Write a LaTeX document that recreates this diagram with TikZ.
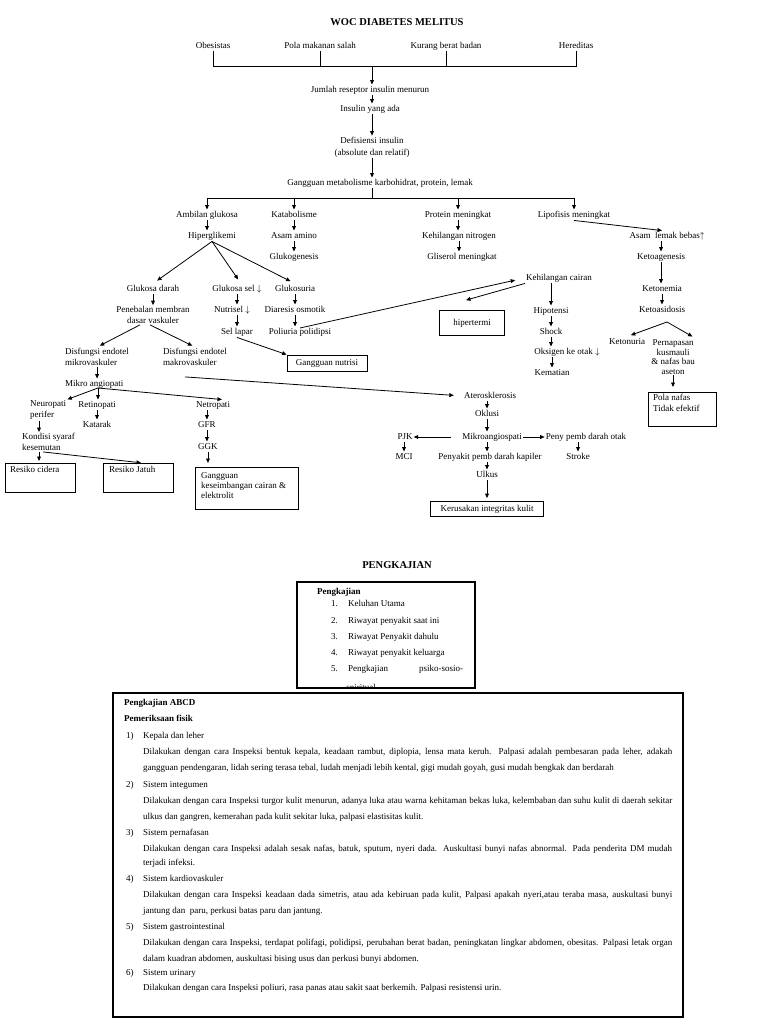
\documentclass[tikz,border=0pt]{standalone}
\usepackage{fontspec}
\setmainfont{Liberation Serif}
\usetikzlibrary{arrows.meta, positioning, calc}

\begin{document}
\begin{tikzpicture}[x=1pt, y=-1pt,
  dasar/.style={inner sep=1pt, font=\fontsize{9}{11}\selectfont},
  txt/.style={dasar, text height=6.5pt, text depth=2pt},
  ml/.style={dasar, align=center},
  mll/.style={dasar, align=left},
  ttl/.style={inner sep=1pt, font=\fontsize{10.5}{12}\selectfont\bfseries},
  kotak/.style={draw, line width=0.8pt, inner sep=2pt, font=\fontsize{9}{11}\selectfont},
  tebal/.style={draw, line width=1.6pt},
  isi/.style={anchor=base west, inner sep=0pt, font=\fontsize{9}{11}\selectfont},
  arr/.style={-{Triangle[length=4.5pt, width=3.8pt]}, line width=0.8pt},
  garis/.style={line width=0.8pt}]
  \useasboundingbox (0,0) rectangle (768,1024);

  % judul
  \node[ttl] (judul) at (397,22) {WOC DIABETES MELITUS};

  % penyebab
  \node[txt] (obes) at (213,46) {Obesistas};
  \node[txt] (pola) at (320,46) {Pola makanan salah};
  \node[txt] (kurang) at (446,46) {Kurang berat badan};
  \node[txt] (hered) at (576,46) {Hereditas};
  \coordinate (j0) at (372,66);
  \draw[garis] (obes.south) |- (j0);
  \draw[garis] (hered.south) |- (j0);
  \draw[garis] (pola.south) -- (pola.south |- j0);
  \draw[garis] (kurang.south) -- (kurang.south |- j0);

  \node[txt] (resep) at (370,90) {Jumlah reseptor insulin menurun};
  \node[txt] (insulin) at (370,109) {Insulin yang ada};
  \node[ml, font=\fontsize{9}{12}\selectfont] (defis) at (372,147) {Defisiensi insulin\\(absolute dan relatif)};
  \node[txt] (ggmet) at (380,183) {Gangguan metabolisme karbohidrat, protein, lemak};
  \draw[arr] (j0) -- (j0 |- resep.north);
  \draw[arr] (resep.south -| j0) -- (j0 |- insulin.north);
  \draw[arr] (insulin.south -| j0) -- (j0 |- defis.north);
  \draw[arr] (defis.south -| j0) -- (j0 |- ggmet.north);

  \coordinate (j1) at (372,198);
  \draw[garis] (ggmet.south -| j1) -- (j1);
  \node[txt] (ambil) at (207,215) {Ambilan glukosa};
  \node[txt] (katab) at (294,215) {Katabolisme};
  \node[txt] (protein) at (458,215) {Protein meningkat};
  \node[txt] (lipo) at (574,215) {Lipofisis meningkat};
  \draw[arr] (j1) -| (ambil.north);
  \draw[arr] (j1) -| (lipo.north);
  \draw[arr] (katab.north |- j1) -- (katab.north);
  \draw[arr] (protein.north |- j1) -- (protein.north);

  \node[txt] (hiper) at (212,236) {Hiperglikemi};
  \node[txt] (asam) at (294,236) {Asam amino};
  \node[txt] (glukog) at (294,257) {Glukogenesis};
  \node[txt] (nitro) at (459,236) {Kehilangan nitrogen};
  \node[txt] (gliser) at (462,257) {Gliserol meningkat};
  \node[txt] (alb) at (667,236) {Asam~ lemak bebas$\uparrow$};
  \node[txt] (ketoag) at (661,257) {Ketoagenesis};
  \draw[arr] (ambil.south) -- (ambil.south |- hiper.north);
  \draw[arr] (katab.south) -- (asam.north);
  \draw[arr] (asam.south) -- (glukog.north);
  \draw[arr] (protein.south) -- (protein.south |- nitro.north);
  \draw[arr] (nitro.south) -- (nitro.south |- gliser.north);
  \draw[arr] (lipo.south) -- ([xshift=-5pt]alb.north);
  \draw[arr] (alb.south -| ketoag) -- (ketoag.north);

  % keton
  \node[txt] (ketonem) at (662,289) {Ketonemia};
  \node[txt] (ketoas) at (662,310) {Ketoasidosis};
  \draw[arr] (ketoag.south) -- (ketoag.south |- ketonem.north);
  \draw[arr] (ketonem.south) -- (ketoas.north);
  \coordinate (kb) at (667,322);
  \node[txt] (ketonu) at (627,342) {Ketonuria};
  \node[ml, font=\fontsize{9}{9.5}\selectfont] (napas) at (673,357) {Pernapasan\\kusmauli\\\& nafas bau\\aseton};
  \draw[arr, shorten >=4pt] (kb) -- (ketonu.north);
  \draw[arr, shorten >=4pt] (kb) -- (napas.north east);
  \node[kotak, anchor=north west, minimum width=68pt, minimum height=34pt] (polanf) at (648,392) {};
  \node[mll, anchor=north west] (polanfT) at (652,393) {Pola nafas\\Tidak efektif};
  \draw[arr, shorten >=5pt] (napas.south) -- (napas.south |- polanf.north);

  % glukosa
  \node[txt] (gdarah) at (153,289) {Glukosa darah};
  \node[txt] (gsel) at (237,289) {Glukosa sel $\downarrow$};
  \node[txt] (gsuria) at (295,289) {Glukosuria};
  \draw[arr, shorten >=5pt] (hiper.south) -- (gdarah.north);
  \draw[arr, shorten >=5pt] (hiper.south) -- ([xshift=4pt]gsel.north);
  \draw[arr, shorten >=5pt] (hiper.south) -- (gsuria.north);
  \node[ml] (tebal) at (153,315) {Penebalan membran\\dasar vaskuler};
  \node[txt] (nutri) at (232,310) {Nutrisel $\downarrow$};
  \node[txt] (lapar) at (237,332) {Sel lapar};
  \node[txt] (diures) at (295,310) {Diaresis osmotik};
  \node[txt] (poli) at (300,332) {Poliuria polidipsi};
  \draw[arr] (gdarah.south) -- (gdarah.south |- tebal.north);
  \draw[arr] (gsel.south) -- (gsel.south |- nutri.north);
  \draw[arr] (lapar.north |- nutri.south) -- (lapar.north);
  \draw[arr] (gsuria.south) -- (gsuria.south |- diures.north);
  \draw[arr] (diures.south) -- (diures.south |- poli.north);
  \node[kotak, minimum width=80pt, minimum height=16pt] (gnutri) at (327,363) {Gangguan nutrisi};
  \draw[arr] (lapar.south) -- (gnutri.north west);

  % cairan
  \node[txt] (cairan) at (559,278) {Kehilangan cairan};
  \draw[arr, shorten >=10pt] ([yshift=4pt]poli.center) -- (cairan.west);
  \node[kotak, minimum width=65pt, minimum height=25pt] (hiperterm) at (472,323) {hipertermi};
  \draw[arr] (cairan.south west) -- ([xshift=-6pt, yshift=10pt]hiperterm.north);
  \node[txt] (hipot) at (551,311) {Hipotensi};
  \node[txt] (shock) at (551,332) {Shock};
  \node[txt] (oksig) at (567,352) {Oksigen ke otak $\downarrow$};
  \node[txt] (mati) at (552,373) {Kematian};
  \draw[arr] (cairan.south -| hipot) -- (hipot.north);
  \draw[arr] (hipot.south) -- (shock.north);
  \draw[arr] (shock.south) -- (shock.south |- oksig.north);
  \draw[arr] (oksig.south -| mati) -- (mati.north);

  % disfungsi endotel
  \node[mll, anchor=west] (mikrov) at (64,357) {Disfungsi endotel\\mikrovaskuler};
  \node[mll, anchor=west] (makrov) at (162,357) {Disfungsi endotel\\makrovaskuler};
  \draw[arr, shorten >=3pt] ([xshift=-13pt]tebal.south) -- (mikrov.north);
  \draw[arr, shorten >=3pt] ([xshift=-3pt]tebal.south) -- (makrov.north);
  \node[txt, anchor=west] (mangio) at (64,384) {Mikro angiopati};
  \draw[arr] (mikrov.south) -- (mikrov.south |- mangio.north);

  \coordinate (mj) at (98,388);
  \node[mll, anchor=west] (neuro) at (29,410) {Neuropati\\perifer};
  \node[txt] (retino) at (97,405) {Retinopati};
  \node[txt] (katarak) at (97,425) {Katarak};
  \node[txt] (nefro) at (213,405) {Netropati};
  \draw[arr] (mj) -- (neuro.north east);
  \draw[arr] (mj) -- (mj |- retino.north);
  \draw[arr] (mj) -- ([xshift=9pt]nefro.north);
  \draw[arr] (retino.south) -- (katarak.north);

  \node[mll, anchor=west] (syaraf) at (21,442) {Kondisi syaraf\\kesemutan};
  \draw[arr] ([xshift=10pt]neuro.south west) -- ([xshift=18pt]syaraf.north west);
  \node[kotak, anchor=north west, minimum width=70pt, minimum height=29pt] (cidera) at (5,463) {};
  \node[txt, anchor=north west] (cideraT) at (9,465) {Resiko cidera};
  \node[kotak, anchor=north west, minimum width=70pt, minimum height=29pt] (jatuh) at (103,463) {};
  \node[txt, anchor=north west] (jatuhT) at (108,465) {Resiko Jatuh};
  \draw[arr, shorten >=2pt] ([xshift=18pt]syaraf.south west) -- ([xshift=18pt]syaraf.south west |- cidera.north);
  \draw[arr, shorten >=2pt] ([xshift=22pt]syaraf.south west) -- ([xshift=40pt]jatuh.north west);

  \node[txt, anchor=west] (gfr) at (197,425) {GFR};
  \node[txt, anchor=west] (ggk) at (197,447) {GGK};
  \draw[arr] (gfr.north |- nefro.south) -- (gfr.north);
  \draw[arr] (gfr.south) -- (gfr.south |- ggk.north);
  \node[kotak, anchor=north west, minimum width=103pt, minimum height=42pt] (elektro) at (195,467) {};
  \node[mll, anchor=north west, font=\fontsize{9}{10}\selectfont] (elektroT) at (200,471) {Gangguan\\keseimbangan cairan \&\\elektrolit};
  \draw[arr, shorten >=4pt] (ggk.south) -- (ggk.south |- elektro.north);

  % makrovaskuler
  \node[txt] (atero) at (490,396) {Aterosklerosis};
  \draw[arr, shorten >=9pt] ([xshift=23pt, yshift=-10pt]makrov.south west) -- (atero.west);
  \node[txt] (oklusi) at (487,414) {Oklusi};
  \node[txt] (mikroa) at (492,437) {Mikroangiospati};
  \node[txt] (pjk) at (405,437) {PJK};
  \node[txt] (mci) at (404,457) {MCI};
  \node[txt] (otak) at (586,437) {Peny pemb darah otak};
  \node[txt] (stroke) at (578,457) {Stroke};
  \node[txt] (kapiler) at (490,457) {Penyakit pemb darah kapiler};
  \node[txt] (ulkus) at (487,475) {Ulkus};
  \node[kotak, minimum width=113pt, minimum height=15pt] (kulit) at (487,509) {Kerusakan integritas kulit};
  \draw[arr] (atero.south -| oklusi) -- (oklusi.north);
  \draw[arr] (oklusi.south) -- (oklusi.south |- mikroa.north);
  \draw[arr, shorten <=10pt] (mikroa.west) -- (pjk.east);
  \draw[arr] (mikroa.east) -- (otak.west);
  \draw[arr] (oklusi.south |- mikroa.south) -- (oklusi.south |- kapiler.north);
  \draw[arr] (pjk.south -| mci) -- (mci.north);
  \draw[arr] (stroke.north |- otak.south) -- (stroke.north);
  \draw[arr] (ulkus.north |- kapiler.south) -- (ulkus.north);
  \draw[arr, shorten >=3pt] (ulkus.south) -- (ulkus.south |- kulit.north);

  % pengkajian
  \node[ttl] (pengk) at (397,565) {PENGKAJIAN};
  \node[tebal, anchor=north west, minimum width=178pt, minimum height=106pt] (kaji) at (296,581) {};
  \node[txt, anchor=west, font=\fontsize{9}{11}\selectfont\bfseries] (kajiT) at (316,592) {Pengkajian};
  \node[txt, anchor=west] (no1) at (330,604) {1.};
  \node[txt, anchor=west] (item1) at (347,604) {Keluhan Utama};
  \node[txt, anchor=west] (no2) at (330,621) {2.};
  \node[txt, anchor=west] (item2) at (347,621) {Riwayat penyakit saat ini};
  \node[txt, anchor=west] (no3) at (330,637) {3.};
  \node[txt, anchor=west] (item3) at (347,637) {Riwayat Penyakit dahulu};
  \node[txt, anchor=west] (no4) at (330,653) {4.};
  \node[txt, anchor=west] (item4) at (347,653) {Riwayat penyakit keluarga};
  \node[txt, anchor=west] (no5) at (330,669) {5.};
  \node[txt, anchor=west] (item5) at (347,669) {\makebox[115pt][s]{Pengkajian psiko-sosio-}};
  \begin{scope}
    \clip (kaji.north west) rectangle ([yshift=1pt]kaji.south east);
    \node[txt, anchor=north] (item5b) at (361,683) {spiritual};
  \end{scope}

  % pemeriksaan fisik
  \node[tebal, anchor=north west, minimum width=570pt, minimum height=324pt] (fisik) at (112,692) {};
  \node[isi, font=\fontsize{9}{11}\selectfont\bfseries] (abcd) at (124,705.5) {Pengkajian ABCD};
  \node[isi, font=\fontsize{9}{11}\selectfont\bfseries] (periksa) at (124,721.5) {Pemeriksaan fisik};

  \node[isi] (no1f) at (126,738.5) {1)};
  \node[isi] (kepala) at (143,738.5) {Kepala dan leher};
  \node[isi] (kepalaA) at (143,754.5) {\makebox[529pt][s]{Dilakukan dengan cara Inspeksi bentuk kepala, keadaan rambut, diplopia, lensa mata keruh. Palpasi adalah pembesaran pada leher, adakah}};
  \node[isi] (kepalaB) at (143,770.5) {gangguan pendengaran, lidah sering terasa tebal, ludah menjadi lebih kental, gigi mudah goyah, gusi mudah bengkak dan berdarah};

  \node[isi] (no2f) at (126,787.5) {2)};
  \node[isi] (integ) at (143,787.5) {Sistem integumen};
  \node[isi] (integA) at (143,803.5) {\makebox[529pt][s]{Dilakukan dengan cara Inspeksi turgor kulit menurun, adanya luka atau warna kehitaman bekas luka, kelembaban dan suhu kulit di daerah sekitar}};
  \node[isi] (integB) at (143,819.5) {ulkus dan gangren, kemerahan pada kulit sekitar luka, palpasi elastisitas kulit.};

  \node[isi] (no3f) at (126,835.5) {3)};
  \node[isi] (nafas) at (143,835.5) {Sistem pernafasan};
  \node[isi] (nafasA) at (143,851.5) {\makebox[529pt][s]{Dilakukan dengan cara Inspeksi adalah sesak nafas, batuk, sputum, nyeri dada. Auskultasi bunyi nafas abnormal. Pada penderita DM mudah}};
  \node[isi] (nafasB) at (143,865.5) {terjadi infeksi.};

  \node[isi] (no4f) at (126,881.5) {4)};
  \node[isi] (kardio) at (143,881.5) {Sistem kardiovaskuler};
  \node[isi] (kardioA) at (143,897.5) {\makebox[529pt][s]{Dilakukan dengan cara Inspeksi keadaan dada simetris, atau ada kebiruan pada kulit, Palpasi apakah nyeri,atau teraba masa, auskultasi bunyi}};
  \node[isi] (kardioB) at (143,913.5) {jantung dan\ \ paru, perkusi batas paru dan jantung.};

  \node[isi] (no5f) at (126,929.5) {5)};
  \node[isi] (gastro) at (143,929.5) {Sistem gastrointestinal};
  \node[isi] (gastroA) at (143,945.5) {\makebox[529pt][s]{Dilakukan dengan cara Inspeksi, terdapat polifagi, polidipsi, perubahan berat badan, peningkatan lingkar abdomen, obesitas. Palpasi letak organ}};
  \node[isi] (gastroB) at (143,961.5) {dalam kuadran abdomen, auskultasi bising usus dan perkusi bunyi abdomen.};

  \node[isi] (no6f) at (126,975.5) {6)};
  \node[isi] (urin) at (143,975.5) {Sistem urinary};
  \node[isi] (urinA) at (143,990.5) {Dilakukan dengan cara Inspeksi poliuri, rasa panas atau sakit saat berkemih. Palpasi resistensi urin.};
\end{tikzpicture}
\end{document}
